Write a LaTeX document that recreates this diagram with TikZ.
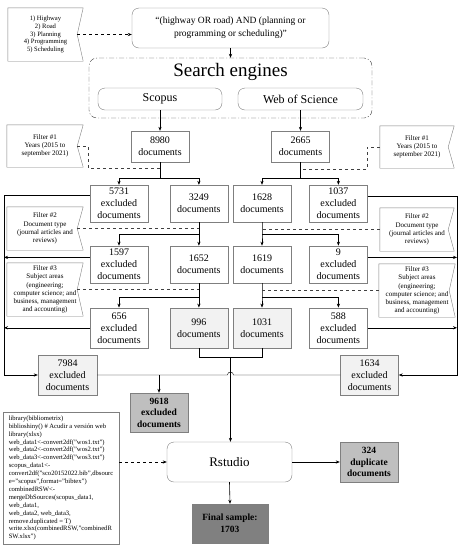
\documentclass[tikz,border=0pt]{standalone}
\usepackage{fontspec}
\setmainfont{Liberation Serif}
\usetikzlibrary{arrows.meta,positioning,calc}
\definecolor{edge}{HTML}{7F7F7F}
\definecolor{paleg}{HTML}{F2F2F2}
\definecolor{midg}{HTML}{BFBFBF}
\definecolor{darkg}{HTML}{808080}
\tikzset{
  doc_box/.style={draw=edge,fill=white,minimum width=58pt,minimum height=37pt,
    inner sep=1pt,font=\fontsize{10}{12}\selectfont,align=center},
  doc_pale/.style={doc_box,fill=paleg},
  doc_mid/.style={doc_box,fill=midg,font=\fontsize{9.5}{11.5}\selectfont\bfseries},
  doc_dark/.style={doc_box,fill=darkg,font=\fontsize{9.5}{12}\selectfont\bfseries},
  flag_box/.style={minimum width=76pt,minimum height=42pt,inner sep=1pt,
    font=\fontsize{7}{8.2}\selectfont,align=center},
  round_box/.style={draw=edge,fill=white,rounded corners=7pt,align=center,inner sep=2pt},
  arr/.style={-{Stealth[length=4pt,width=3.2pt]},draw=black,line width=0.6pt},
  dsh/.style={dashed,draw=black!75,line width=0.6pt},
}

\begin{document}
\begin{tikzpicture}[x=1pt,y=-1pt]
  \useasboundingbox (0,0) rectangle (464,550);

  % query and search engines
  \node[flag_box,minimum width=75pt,minimum height=53pt,font=\fontsize{6.6}{7.8}\selectfont] (kw) at (45.5,34.5)
    {1) Highway\\2) Road\\3) Planning\\4) Programming\\5) Scheduling};
  \node[round_box,minimum width=197pt,minimum height=40pt,font=\fontsize{9.5}{13}\selectfont] (query) at (230.5,28)
    {``(highway OR road) AND (planning or\\programming or scheduling)''};
  \node[draw=black!75,rounded corners=8pt,dash pattern=on 5pt off 2pt on 1pt off 2pt,
    minimum width=283pt,minimum height=60pt] (se) at (230.5,88) {};
  \node[font=\fontsize{19}{22}\selectfont] (setitle) at (230.5,72) {Search engines};
  \node[round_box,minimum width=124pt,minimum height=22pt,font=\fontsize{12}{14}\selectfont] (scopus) at (160,99) {Scopus};
  \node[round_box,minimum width=125pt,minimum height=22pt,font=\fontsize{12}{14}\selectfont] (wos) at (300.5,99) {Web of Science};

  % first hits
  \node[doc_box,minimum height=31pt] (d8980) at (160,146.5) {8980\\documents};
  \node[doc_box,minimum height=31pt] (d2665) at (300.5,146.5) {2665\\documents};

  % filters
  \node[flag_box] (fa) at (45,146) {Filter \#1\\Years (2015 to\\september 2021)};
  \node[flag_box,minimum width=74pt] (fb) at (417,147) {Filter \#1\\Years (2015 to\\september 2021)};
  \node[flag_box,minimum height=43pt] (fc) at (45,228.5) {Filter \#2\\Document type\\(journal articles and\\reviews)};
  \node[flag_box,minimum width=74pt,minimum height=43pt] (fd) at (417,229.5) {Filter \#2\\Document type\\(journal articles and\\reviews)};
  \node[flag_box,minimum height=53pt] (fe) at (45,289.5) {Filter \#3\\Subject areas\\(engineering;\\computer science; and\\business, management\\and accounting)};
  \node[flag_box,minimum height=53pt] (ff) at (417,290.5) {Filter \#3\\Subject areas\\(engineering;\\computer science; and\\business, management\\and accounting)};
  \foreach \f in {kw,fa,fb,fc,fd,fe,ff}
    \draw[draw=edge] (\f.north west) -- (\f.north east) -- ([xshift=-6pt]\f.east)
      -- (\f.south east) -- (\f.south west) -- cycle;

  % rows
  \node[doc_box] (x5731) at (119,203.5) {5731\\excluded\\documents};
  \node[doc_box,right=21.5pt of x5731] (d3249) {3249\\documents};
  \node[doc_box] (d1628) at (262,203.5) {1628\\documents};
  \node[doc_box,right=18pt of d1628] (x1037) {1037\\excluded\\documents};

  \node[doc_box,below=23.5pt of x5731] (x1597) {1597\\excluded\\documents};
  \node[doc_box,below=23.5pt of d3249] (d1652) {1652\\documents};
  \node[doc_box,below=23.5pt of d1628] (d1619) {1619\\documents};
  \node[doc_box,below=23.5pt of x1037] (x9) {9\\excluded\\documents};

  \node[doc_box,minimum height=40pt,below=24.5pt of x1597] (x656) {656\\excluded\\documents};
  \node[doc_pale,minimum height=40pt,below=24.5pt of d1652] (d996) {996\\documents};
  \node[doc_pale,minimum height=40pt,below=24.5pt of d1619] (d1031) {1031\\documents};
  \node[doc_box,minimum height=40pt,below=24.5pt of x9] (x588) {588\\excluded\\documents};

  % totals
  \node[doc_pale,minimum width=59pt,minimum height=40pt] (x7984) at (67.5,375) {7984\\excluded\\documents};
  \node[doc_pale,minimum height=40pt] (x1634) at (369.5,375) {1634\\excluded\\documents};
  \node[doc_mid,minimum height=39pt] (x9618) at (159,412.5) {9618\\excluded\\documents};
  \node[round_box,minimum width=125pt,minimum height=40pt,font=\fontsize{13}{15}\selectfont] (rstudio) at (229.5,462) {Rstudio};
  \node[doc_mid,minimum height=40pt] (dup) at (369,462) {324\\duplicate\\documents};
  \node[doc_dark,minimum width=76pt,minimum height=39pt] (final) at (230,523.5) {Final sample:\\1703};
  \node[draw=edge,minimum width=116pt,minimum height=132pt,align=left,inner sep=3pt,
    font=\fontsize{6.6}{7.9}\selectfont] (code) at (61,478)
    {library(bibliometrix)\\
     biblioshiny() \# Acudir a versión web\\
     library(xlsx)\\
     web\_data1<-convert2df("wos1.txt")\\
     web\_data2<-convert2df("wos2.txt")\\
     web\_data3<-convert2df("wos3.txt")\\
     scopus\_data1<-\\
     convert2df("sco20152022.bib",dbsourc\\
     e="scopus",format="bibtex")\\
     combinedRSW<-\\
     mergeDbSources(scopus\_data1,\\
     web\_data1,\\
     web\_data2, web\_data3,\\
     remove.duplicated = T)\\
     write.xlsx(combinedRSW,"combinedR\\
     SW.xlsx")};

  % helper points
  \coordinate (s1) at ([yshift=-16pt]d8980.south);
  \coordinate (s2) at ([yshift=-16pt]d2665.south);
  \coordinate (m1) at ([yshift=-6pt]d8980.south);
  \coordinate (m2) at ([yshift=-7pt]d2665.south);
  \coordinate (s3) at ([yshift=-12pt]d3249.south);
  \coordinate (s4) at ([yshift=-12pt]d1628.south);
  \coordinate (s5) at ([yshift=-14pt]d1652.south);
  \coordinate (s6) at ([yshift=-14pt]d1619.south);
  \coordinate (cl) at (4,375);
  \coordinate (cr) at (457,375);
  \coordinate (e1) at ([yshift=8pt]x5731.west);
  \coordinate (e2) at ([yshift=7pt]x1597.west);
  \coordinate (e3) at ([yshift=7pt]x1037.east);
  \coordinate (e4) at ([yshift=7pt]x9.east);
  \coordinate (mg) at ($(d996.south)!0.5!(d1031.south)+(0,9.5)$);
  \coordinate (hop) at (mg |- x7984.east);

  % connectors
  \draw[dsh,arr] ([xshift=-6pt]kw.east) -- (query.west |- kw.east);
  \draw[arr] (query.south) -- (se.north);
  \draw[arr] (scopus.south) -- (d8980.north);
  \draw[arr] (wos.south) -- (d2665.north);

  \draw[arr] (d8980.south) -- (s1) -| (x5731.north);
  \draw[arr] (s1) -| (d3249.north);
  \draw[arr] (d2665.south) -- (s2) -| (d1628.north);
  \draw[arr] (s2) -| (x1037.north);
  \draw[dsh] ([xshift=-6pt]fa.east) -- ++(11,0) |- (m1);
  \draw[dsh] (fb.west) -- ++(-13,0) |- (m2);

  \draw[arr] (d3249.south) -- (s3) -| (x1597.north);
  \draw[arr] (s3) -| (d1652.north);
  \draw[arr] (d1628.south) -- (s4) -| (d1619.north);
  \draw[arr] (s4) -| (x9.north);
  \draw[dsh] ([xshift=-6pt]fc.east) -- (d3249.south |- fc.east);
  \draw[dsh] (fd.west) -- (d1628.south |- fd.west);

  \draw[arr] (d1652.south) -- (s5) -| (x656.north);
  \draw[arr] (s5) -| (d996.north);
  \draw[arr] (d1619.south) -- (s6) -| (d1031.north);
  \draw[arr] (s6) -| (x588.north);
  \draw[dsh] ([xshift=-6pt]fe.east) -- (d1652.south |- fe.east);
  \draw[dsh] (ff.west) -- (d1619.south |- ff.west);

  \draw[arr] (e1) -| (cl) -- (x7984.west);
  \draw[arr] (e2) -- (cl |- e2);
  \draw[arr] (x656.west) -- (cl |- x656.west);
  \draw[arr] (e3) -| (cr) -- (x1634.east);
  \draw[arr] (e4) -- (cr |- e4);
  \draw[arr] (x588.east) -- (cr |- x588.east);

  \draw (x7984.east) -- ([xshift=-3pt]hop) arc[start angle=180,end angle=0,radius=3pt] -- (x1634.west);
  \draw[arr] (x9618.north |- x7984.east) -- (x9618.north);
  \draw (d996.south) |- (mg) -| (d1031.south);
  \draw[arr] (mg) -- (mg |- rstudio.north);
  \draw[dsh,arr] (code.east |- rstudio.west) -- (rstudio.west);
  \draw[arr] (rstudio.east) -- (dup.west);
  \draw[arr] (rstudio.south) -- (final.north);
\end{tikzpicture}
\end{document}
